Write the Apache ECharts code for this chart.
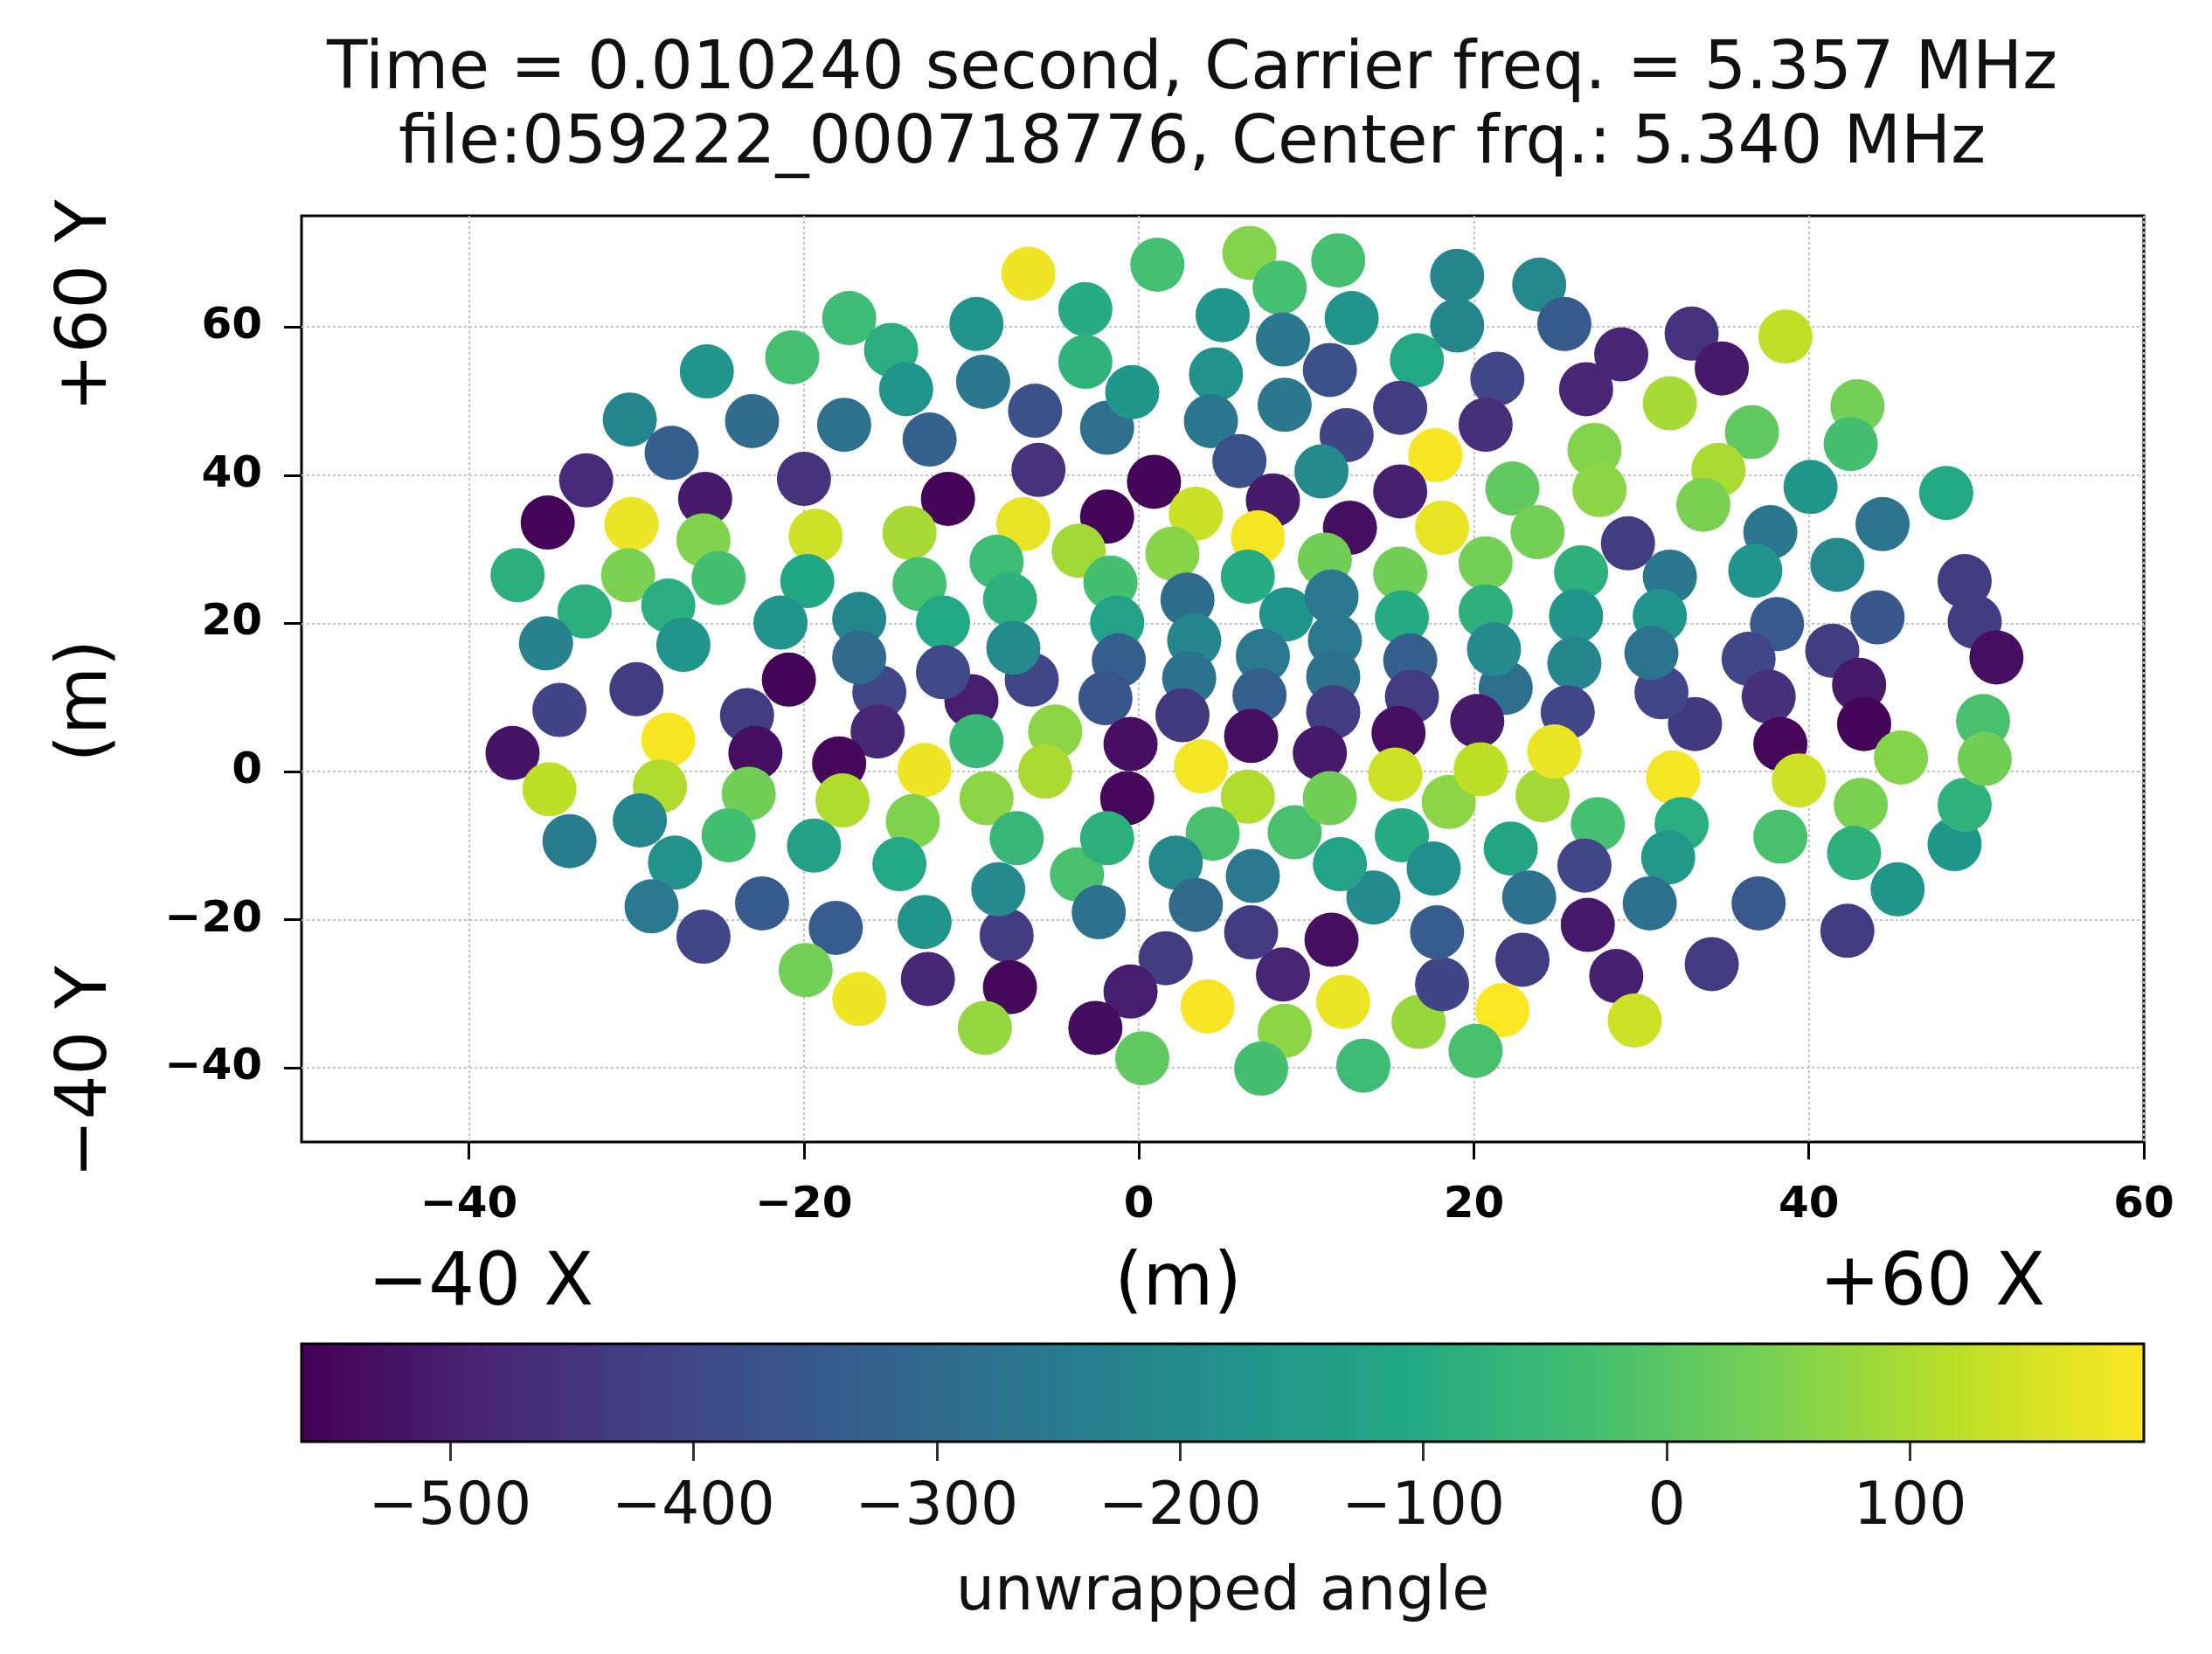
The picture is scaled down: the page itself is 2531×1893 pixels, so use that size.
<!DOCTYPE html>
<html>
<head>
<meta charset="utf-8">
<script src="https://cdn.jsdelivr.net/npm/echarts@6/dist/echarts.min.js"></script>
<style>
html,body{margin:0;padding:0;background:#fff;}
#chart{width:2531px;height:1893px;}
</style>
</head>
<body>
<div id="chart"></div>
<script>
// ---- data ----
var titleLines = ["Time = 0.010240 second, Carrier freq. = 5.357 MHz", "file:059222_000718776, Center frq.: 5.340 MHz"];
var xTicks = [-40, -20, 0, 20, 40, 60];
var yTicks = [-40, -20, 0, 20, 40, 60];
var xRange = [-50, 60];
var yRange = [-50, 75];
var colorRange = [-561, 196];
var colorTicks = [-500, -400, -300, -200, -100, 0, 100];
var colorLabel = "unwrapped angle";
var viridis = ["#440154","#482475","#414487","#355f8d","#2a788e","#21918c","#22a884","#44bf70","#7ad151","#bddf26","#fde725"];

var xs = [-35.3,-33.0,-30.4,-27.9,-25.8,-23.1,-20.7,-17.6,-17.3,-14.8,-13.9,-12.5,-9.7,-9.3,-6.6,-6.2,-6.0,-3.2,-3.2,-1.9,
-0.4,1.1,0.9,5.0,4.6,4.3,6.6,8.4,8.6,6.0,8.7,11.9,12.7,11.4,12.4,10.9,8.0,12.6,19.0,19.0,
16.6,15.6,17.7,15.6,21.4,20.7,23.9,25.4,26.7,28.8,33.0,34.8,38.6,31.7,36.6,42.9,42.5,34.6,27.2,27.5,
22.3,23.8,18.1,33.7,29.2,37.7,40.1,44.4,48.2,41.7,36.8,31.7,26.4,20.7,15.6,11.1,7.1,6.5,3.4,2.0,
-1.9,-3.6,-6.9,-11.4,-13.7,-19.3,-20.0,-25.9,-30.3,-26.0,-30.5,-37.1,-33.1,-35.4,-28.1,-27.2,-25.1,-19.8,-21.4,-13.1,
-16.7,-11.7,-8.5,-7.7,-1.7,-1.3,2.9,3.3,8.8,11.5,11.7,15.7,20.7,26.1,31.1,38.1,44.1,49.3,49.9,51.2,
41.4,43.0,43.3,36.4,37.6,38.3,33.2,31.2,30.6,26.0,25.6,21.9,21.2,16.2,16.3,15.5,20.2,11.6,11.6,10.8,
7.4,7.2,6.7,3.0,2.6,-1.2,-2.0,-0.5,-0.7,-6.4,-7.5,-10.0,-11.7,-5.0,-5.6,-9.7,-12.8,-15.5,-15.6,-16.7,
-17.9,-20.9,-23.4,-22.9,-30.0,-34.6,-37.4,-35.2,-28.1,-28.6,-23.3,-17.7,-13.5,-9.1,-7.3,-3.7,-1.9,3.7,6.5,4.4,
2.2,3.4,6.8,9.3,11.4,15.3,15.7,18.5,20.4,17.6,22.2,24.1,24.8,27.4,26.6,23.3,31.9,32.4,31.6,30.5,
38.3,39.4,43.1,42.7,45.5,45.3,48.7,49.3,50.4,50.5,37.0,42.3,34.2,28.5,29.6,26.8,22.9,21.7,20.1,16.7,
18.1,17.8,14.0,12.0,11.5,12.2,13.4,8.6,8.7,7.3,6.7,4.1,1.6,-0.5,0.2,-2.6,-2.4,-7.9,-7.7,-8.4,
-9.2,-12.6,-12.8,-14.3,-19.4,-18.1,-16.7,-19.9,-22.5,-24.5,-27.7,-29.8,-29.1,-26.0,-34.0];

var ys = [33.6,39.3,47.5,43.0,54.0,47.3,55.9,46.8,61.2,56.9,51.6,44.8,60.4,52.6,67.2,48.7,40.7,62.4,55.3,46.4,
51.2,68.4,39.1,61.6,53.6,47.3,70.0,65.3,58.3,41.9,49.5,69.0,61.2,54.2,45.4,40.5,36.6,32.9,66.9,60.2,
55.5,49.1,42.7,37.8,53.0,46.8,65.7,60.4,51.6,56.3,59.1,54.4,58.7,49.7,45.8,49.3,44.2,40.7,43.4,38.0,
38.2,32.3,32.9,36.0,30.8,32.3,38.4,33.4,37.6,27.9,27.1,26.3,26.9,28.1,26.7,28.6,31.6,26.3,34.8,29.4,
34.4,29.8,33.4,36.8,32.2,31.8,39.5,36.8,33.4,31.2,26.5,26.5,21.6,17.3,22.4,17.1,26.1,25.7,20.1,25.3,
20.6,20.1,28.3,23.2,25.5,20.1,23.2,17.7,21.2,23.6,17.7,20.8,21.6,21.0,21.0,19.9,20.8,25.7,20.2,15.4,
16.3,11.7,6.4,15.2,10.1,3.7,6.4,10.7,16.0,14.6,8.0,11.3,16.5,15.0,10.1,5.2,6.8,12.8,8.0,2.5,
15.6,10.3,4.8,12.6,7.6,15.0,9.9,3.7,-3.6,12.4,16.7,9.5,13.4,5.4,0.0,4.1,0.2,10.7,5.4,15.4,
1.1,12.4,7.6,2.5,11.1,8.3,2.5,-2.4,4.3,-2.0,-3.0,-3.9,-6.7,-3.6,-9.0,-13.9,-9.0,0.7,-3.4,-8.4,
-12.3,-18.0,-14.1,-8.2,-3.6,-0.4,-8.6,-4.1,0.3,-13.1,-10.4,-3.2,2.7,-7.1,-12.7,-17.0,-0.8,-7.1,-11.6,-17.8,
-8.8,-1.2,-4.5,-11.0,1.9,-15.9,-9.8,-4.5,6.8,1.7,-17.8,-21.5,-26.0,-27.6,-33.6,-20.7,-25.4,-32.2,-37.7,-33.8,
-28.7,-21.7,-17.0,-12.5,-22.7,-31.1,-39.7,-27.4,-35.0,-40.1,-21.7,-31.7,-25.2,-29.7,-38.7,-34.6,-19.0,-22.1,-29.1,-15.9,
-34.6,-28.0,-20.3,-12.5,-10.0,-21.1,-30.7,-26.8,-17.8,-8.6,-12.3,-6.6,-18.2,-22.3,-9.4];

var angles = [-555,-470,-220,-334,-170,-296,-30,-280,-45,-90,-170,-325,-170,-258,180,-375,-450,-95,-75,-285,
-165,-30,-555,-170,-180,-260,55,-30,-260,-375,-260,-30,-170,-375,-410,-205,-505,-530,-215,-215,
-107,-425,190,-495,-405,-460,-210,-345,-480,-480,-455,-510,125,95,10,35,-31,100,55,65,
10,35,170,45,-425,-260,-165,-270,-105,-210,-170,-260,-80,35,30,30,185,-95,135,60,
-555,90,170,-555,95,140,-450,-508,175,52,45,-84,-84,-228,-90,-170,-31,-110,-170,-30,
-215,-107,-45,-80,-31,-125,-290,-215,-170,-255,-255,-95,-80,-170,-170,-350,-355,-425,-425,-530,
-425,-510,-555,-405,-460,-545,-435,-405,-270,-215,-405,-285,-205,-334,-430,-530,-510,-280,-425,-505,
-255,-334,-530,-275,-435,-334,-360,-530,-545,-405,-205,-500,-395,65,100,-55,180,-405,-475,-300,
-545,-555,-425,-530,-425,-410,-520,120,190,105,30,105,50,65,-60,-25,-80,185,105,-25,
-210,-300,-255,-25,30,140,-95,65,120,-185,-120,90,175,-30,-400,-280,185,-90,-160,-280,
-25,140,45,-80,55,-165,-165,-75,-25,30,-350,-425,-430,-495,140,-510,-425,195,-25,80,
-410,-340,-205,-125,-530,175,-45,-485,65,-31,-430,190,-425,-500,10,-535,-280,-425,-545,-205,
75,-475,-170,-107,-130,-340,180,35,-345,-35,-175,-220,-255,-405,-250];

var points = xs.map(function (x, i) { return [x, ys[i], angles[i]]; });

// ---- layout ----
var FONT = 'DejaVu Sans';
var plot = { left: 345, right: 78, top: 247, bottom: 586 };
var cbar = { left: 345, right: 78, top: 1538, height: 112 };

function fmtMinus(v) { return String(v).replace('-', '\u2212'); }

var gradStops = viridis.map(function (c, i) { return { offset: i / (viridis.length - 1), color: c }; });

var chart = echarts.init(document.getElementById('chart'), null, { renderer: 'canvas' });

var option = {
  animation: false,
  backgroundColor: '#ffffff',
  textStyle: { fontFamily: FONT },
  grid: [
    { left: plot.left, right: plot.right, top: plot.top, bottom: plot.bottom,
      show: true, borderColor: '#000', borderWidth: 3, backgroundColor: 'transparent' },
    { left: cbar.left, right: cbar.right, top: cbar.top, height: cbar.height, show: false }
  ],
  xAxis: [
    { type: 'value', gridIndex: 0, min: xRange[0], max: xRange[1], position: 'bottom',
      axisLine: { show: false, onZero: false },
      axisTick: { show: true, inside: false, length: 20, customValues: xTicks, lineStyle: { color: '#000', width: 3 } },
      axisLabel: { show: true, customValues: xTicks, margin: 48, fontFamily: FONT, fontWeight: 'bold', fontSize: 50, color: '#000',
        formatter: fmtMinus },
      splitLine: { show: true, lineStyle: { color: '#c4c4c4', width: 2, type: [3, 3] } }
    },
    { type: 'value', gridIndex: 1, min: colorRange[0], max: colorRange[1], position: 'bottom',
      axisLine: { show: false, onZero: false },
      axisTick: { show: true, inside: false, length: 22, customValues: colorTicks, lineStyle: { color: '#333', width: 3 } },
      axisLabel: { show: true, customValues: colorTicks, margin: 42, fontFamily: FONT, fontSize: 68, color: '#111',
        formatter: fmtMinus },
      splitLine: { show: false }
    }
  ],
  yAxis: [
    { type: 'value', gridIndex: 0, min: yRange[0], max: yRange[1], position: 'left',
      axisLine: { show: false, onZero: false },
      axisTick: { show: true, inside: false, length: 20, customValues: yTicks, lineStyle: { color: '#000', width: 3 } },
      axisLabel: { show: true, customValues: yTicks, margin: 45, fontFamily: FONT, fontWeight: 'bold', fontSize: 50, color: '#000',
        formatter: fmtMinus },
      splitLine: { show: true, lineStyle: { color: '#c4c4c4', width: 2, type: [3, 3] } }
    },
    { type: 'value', gridIndex: 1, min: 0, max: 1, show: false, axisLine: { onZero: false } }
  ],
  visualMap: [{
    show: false, type: 'continuous', seriesIndex: 0, dimension: 2,
    min: colorRange[0], max: colorRange[1],
    inRange: { color: viridis }
  }],
  series: [
    { type: 'scatter', xAxisIndex: 0, yAxisIndex: 0, data: points,
      symbol: 'circle', symbolSize: 62, itemStyle: { opacity: 1, borderWidth: 0 },
      emphasis: { disabled: true }, z: 3 },
    { type: 'custom', xAxisIndex: 1, yAxisIndex: 1, data: [[colorRange[0], colorRange[1]]],
      encode: { x: [0, 1] }, silent: true, z: 3,
      renderItem: function (params, api) {
        var p0 = api.coord([api.value(0), 1]);
        var p1 = api.coord([api.value(1), 0]);
        return {
          type: 'rect',
          shape: { x: p0[0], y: p0[1], width: p1[0] - p0[0], height: p1[1] - p0[1] },
          style: { fill: new echarts.graphic.LinearGradient(0, 0, 1, 0, gradStops), stroke: '#000', lineWidth: 3 }
        };
      }
    }
  ],
  graphic: [
    { type: 'text', x: 1364, y: 81, style: { text: titleLines[0], font: '76px "DejaVu Sans"', fill: '#111', align: 'center', verticalAlign: 'middle' } },
    { type: 'text', x: 1364, y: 166, style: { text: titleLines[1], font: '76px "DejaVu Sans"', fill: '#111', align: 'center', verticalAlign: 'middle' } },
    { type: 'text', x: 100, y: 350, rotation: Math.PI / 2, style: { text: '+60 Y', font: '80px "DejaVu Sans"', fill: '#000', align: 'center', verticalAlign: 'middle' } },
    { type: 'text', x: 100, y: 802, rotation: Math.PI / 2, style: { text: '(m)', font: '80px "DejaVu Sans"', fill: '#000', align: 'center', verticalAlign: 'middle' } },
    { type: 'text', x: 100, y: 1227, rotation: Math.PI / 2, style: { text: '\u221240 Y', font: '80px "DejaVu Sans"', fill: '#000', align: 'center', verticalAlign: 'middle' } },
    { type: 'text', x: 550, y: 1471, style: { text: '\u221240 X', font: '83px "DejaVu Sans"', fill: '#000', align: 'center', verticalAlign: 'middle' } },
    { type: 'text', x: 1348, y: 1471, style: { text: '(m)', font: '83px "DejaVu Sans"', fill: '#000', align: 'center', verticalAlign: 'middle' } },
    { type: 'text', x: 2211, y: 1471, style: { text: '+60 X', font: '83px "DejaVu Sans"', fill: '#000', align: 'center', verticalAlign: 'middle' } },
    { type: 'text', x: 1399, y: 1824, style: { text: colorLabel, font: '70px "DejaVu Sans"', fill: '#111', align: 'center', verticalAlign: 'middle' } }
  ]
};
chart.setOption(option);
</script>
</body>
</html>
